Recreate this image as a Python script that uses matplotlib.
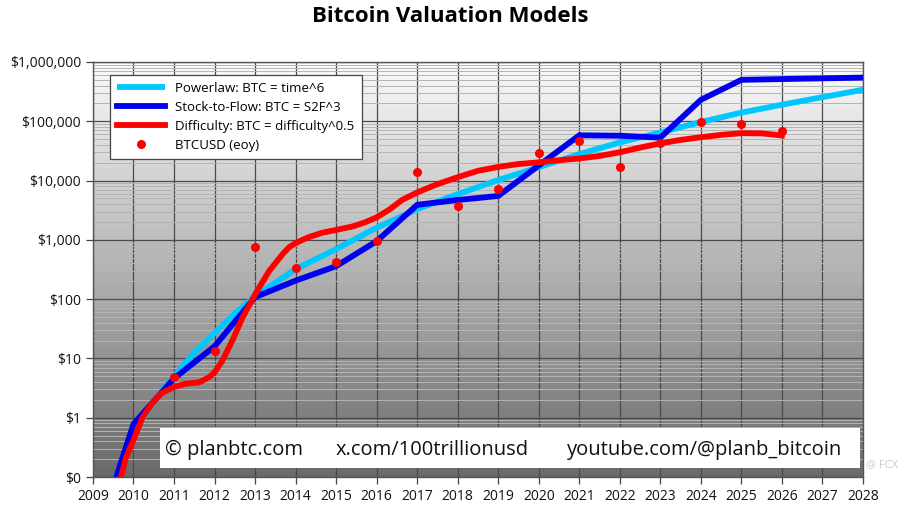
import numpy as np
import matplotlib
matplotlib.use("Agg")
import matplotlib.pyplot as plt
from matplotlib.ticker import FuncFormatter, LogLocator, FixedLocator
from matplotlib.patches import Rectangle
from matplotlib.colors import LinearSegmentedColormap

plt.rcParams['font.family'] = ['Open Sans', 'DejaVu Sans']

# ---- data ----
pl_years = [2009.56, 2010.0, 2010.5, 2011.0, 2011.5, 2012.0, 2012.5, 2013.0, 2014.0, 2015.0, 2016.0,
            2017.0, 2018.0, 2019.0, 2020.0, 2021.0, 2022.0, 2023.0, 2024.0, 2025.0,
            2026.0, 2027.0, 2028.0]
pl_values = [0.1, 0.55, 1.9, 5.0, 12.5, 27, 57, 112, 320, 700, 1600,
             3300, 5900, 10200, 16800, 28000, 44000, 65000, 97000, 140000,
             190000, 255000, 340000]

s2f_years = [2009.5, 2010.0, 2011.0, 2012.0, 2013.0, 2014.0, 2015.0, 2016.0, 2017.0,
             2018.0, 2019.0, 2020.0, 2021.0, 2022.0, 2023.0, 2024.0, 2025.0, 2026.0,
             2027.0, 2028.0]
s2f_values = [0.07, 0.78, 4.6, 16, 108, 205, 360, 950, 3900,
              4700, 5500, 18000, 58000, 57000, 53000, 230000, 500000, 515000,
              530000, 545000]

diff_years = [2009.69, 2009.81, 2010.0, 2010.22, 2010.47, 2010.71, 2011.0, 2011.29, 2011.62,
              2011.86, 2012.0, 2012.19, 2012.44, 2012.69, 2013.0, 2013.35, 2013.68,
              2013.85, 2014.0, 2014.17, 2014.34, 2014.66, 2015.0, 2015.39, 2015.72,
              2016.0, 2016.3, 2016.63, 2017.0, 2017.45, 2018.0, 2018.5, 2019.0,
              2019.5, 2020.0, 2020.5, 2021.0, 2021.5, 2022.0, 2022.5, 2023.0,
              2023.5, 2024.0, 2024.5, 2025.0, 2025.5, 2026.0]
diff_values = [0.1, 0.21, 0.42, 1.0, 1.8, 2.65, 3.3, 3.75, 3.95,
               4.8, 5.8, 9.1, 20, 49, 120, 300, 575,
               760, 880, 1000, 1120, 1320, 1470, 1670, 1980,
               2400, 3200, 4720, 6300, 8450, 11400, 14600, 17000,
               19000, 20300, 22000, 23600, 26000, 30000, 36000, 42300,
               48500, 53800, 59000, 63000, 62500, 57600]

btc_years = [2011, 2012, 2013, 2014, 2015, 2016, 2017, 2018, 2019, 2020, 2021,
             2022, 2023, 2024, 2025, 2026]
btc_values = [4.8, 13.5, 770, 330, 430, 960, 14100, 3790, 7250, 29500, 47000,
              16700, 42300, 96500, 90000, 68000]

x_ticks = list(range(2009, 2029))
y_ticks = [0.1, 1, 10, 100, 1000, 10000, 100000, 1000000]

# ---- figure ----
fig = plt.figure(figsize=(9, 5.08), dpi=100)
ax = fig.add_axes([0.1033, 0.061, 0.8556, 0.817])

ax.set_yscale('log')
ax.set_xlim(2009, 2028)
ax.set_ylim(0.1, 1e6)

# gradient background
grad = np.linspace(0, 1, 256).reshape(-1, 1)
cmap = LinearSegmentedColormap.from_list('bg', ['#6a6a6a', '#fbfbfb'])
ax.imshow(grad, aspect='auto', cmap=cmap, origin='lower',
          extent=[0, 1, 0, 1], transform=ax.transAxes, zorder=0)

# grid
ax.yaxis.set_minor_locator(LogLocator(base=10, subs=np.arange(2, 10)))
ax.grid(which='minor', axis='y', color='#b4b4b4', lw=0.7, zorder=1)
ax.grid(which='major', axis='y', color='#4a4a4a', lw=0.9, zorder=1)
ax.grid(which='major', axis='x', color='#4a4a4a', lw=0.9, zorder=1)

ax.plot(pl_years, pl_values, color='#00c8ff', lw=4.2, solid_capstyle='butt',
        label='Powerlaw: BTC = time^6', zorder=3)
ax.plot(s2f_years, s2f_values, color='#0000ee', lw=4.2, solid_joinstyle='miter',
        label='Stock-to-Flow: BTC = S2F^3', zorder=4)
ax.plot(diff_years, diff_values, color='#ff0000', lw=4.2, solid_joinstyle='round',
        label='Difficulty: BTC = difficulty^0.5', zorder=5)
ax.plot(btc_years, btc_values, 'o', color='#ff0000', ms=6.5, mec='none',
        label='BTCUSD (eoy)', zorder=6)

ax.xaxis.set_major_locator(FixedLocator(x_ticks))
ax.set_xticklabels([str(y) for y in x_ticks])
ax.yaxis.set_major_locator(FixedLocator(y_ticks))
ax.yaxis.set_major_formatter(FuncFormatter(lambda v, p: '${:,.0f}'.format(v)))
ax.tick_params(axis='both', which='major', labelsize=10, length=5, width=0.9,
               color='#444444', labelcolor='#111111')
ax.tick_params(axis='y', which='minor', length=0)
for s in ax.spines.values():
    s.set_color('#555555')
    s.set_linewidth(1.0)
    s.set_zorder(7)

leg = ax.legend(loc='upper left', bbox_to_anchor=(0.022, 0.969), borderaxespad=0,
                fontsize=9.5, frameon=True, fancybox=False, edgecolor='#444444',
                framealpha=1, handlelength=3.6, borderpad=0.55, labelspacing=0.45)
leg.get_frame().set_linewidth(0.9)
leg.set_zorder(10)

# credit box
ax.add_patch(Rectangle((0.087, 0.022), 0.909, 0.096, transform=ax.transAxes,
                       facecolor='white', edgecolor='none', zorder=8))
ty = 0.066
ax.text(0.094, ty, '© planbtc.com', transform=ax.transAxes, fontsize=14.5,
        va='center', ha='left', color='#111111', zorder=9)
ax.text(0.315, ty, 'x.com/100trillionusd', transform=ax.transAxes, fontsize=14.5,
        va='center', ha='left', color='#111111', zorder=9)
ax.text(0.615, ty, 'youtube.com/@planb_bitcoin', transform=ax.transAxes, fontsize=14.5,
        va='center', ha='left', color='#111111', zorder=9)

fig.suptitle('Bitcoin Valuation Models', x=0.5, y=0.988, fontsize=16,
             fontweight='bold', va='top')

fig.text(0.998, 0.075, '@ FCX', fontsize=8, color='#c8c8c8',
         ha='right', va='bottom')

fig.savefig('out.png', dpi=100, facecolor='white')
